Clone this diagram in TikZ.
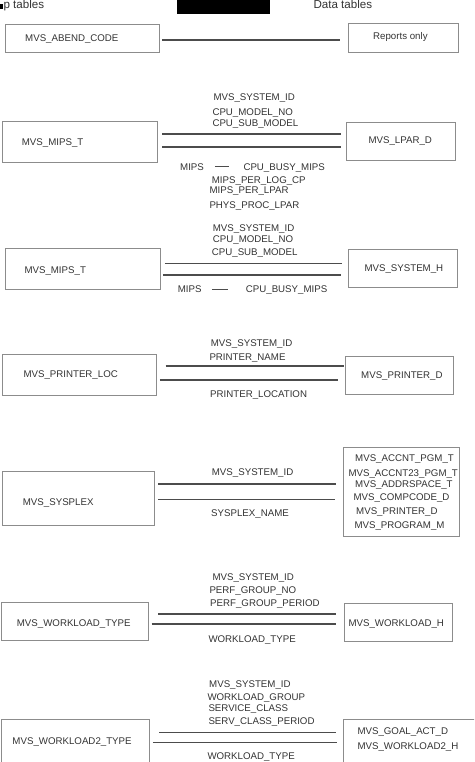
\documentclass[tikz,border=0pt]{standalone}
\usepackage{fontspec}
\setmainfont{Liberation Sans}
\usetikzlibrary{positioning}

\begin{document}
\begin{tikzpicture}[x=1pt,y=-1pt,
		tbl/.style={rectangle,draw=black!45,line width=0.9pt,inner sep=0pt},
		lbl/.style={anchor=west,inner sep=0pt,text height=6.9pt,text depth=0pt,text=black!80,font=\fontsize{9.7}{11}\selectfont},
		head/.style={anchor=base west,inner sep=0pt,text=black!80,font=\fontsize{11.6}{13}\selectfont},
		link/.style={draw=black!70,line width=1.1pt},
		shortlink/.style={draw=black!70,line width=0.8pt}]
		\useasboundingbox (0,0) rectangle (474,762);
		\clip (0,0) rectangle (474,762);

		% headings
		\node[head] (lookup) at (3.3,9) {p tables};
		\node[head] (data) at (313.3,9) {Data tables};
		\fill[black] (0,4) rectangle (2.7,9.5);
		\fill[black] (177,0) rectangle (270,14);

		% abend code
		\node[tbl,minimum width=154,minimum height=28] (abend) at (82,38) {};
		\node[lbl] (abendT) at (25,38) {MVS\_ABEND\_CODE};
		\node[tbl,minimum width=110,minimum height=29] (reports) at (403,37.5) {};
		\node[lbl] (reportsT) at (373,36) {Reports only};
		\draw[link] ([xshift=3]abend.east |- 0,40) -- ([xshift=-8]reports.west |- 0,40);

		% mips / lpar
		\node[tbl,minimum width=155,minimum height=40.3] (mipsA) at (79.5,141.9) {};
		\node[lbl] (mipsAT) at (21.7,142.3) {MVS\_MIPS\_T};
		\node[tbl,minimum width=108.6,minimum height=38.4] (lpar) at (401,141.5) {};
		\node[lbl] (lparT) at (368.3,140) {MVS\_LPAR\_D};
		\node[lbl] (sysA) at (213.3,97.3) {MVS\_SYSTEM\_ID};
		\node[lbl] (modelA) at (212.3,111.7) {CPU\_MODEL\_NO};
		\node[lbl] (subA) at (212.3,123.3) {CPU\_SUB\_MODEL};
		\node[lbl] (mipsKA) at (180,166.7) {MIPS};
		\node[lbl] (busyA) at (243.3,166.7) {CPU\_BUSY\_MIPS};
		\node[lbl] (logcp) at (211.7,180) {MIPS\_PER\_LOG\_CP};
		\node[lbl] (perlpar) at (209.3,190) {MIPS\_PER\_LPAR};
		\node[lbl] (phys) at (209.3,204.7) {PHYS\_PROC\_LPAR};
		\draw[link] ([xshift=5]mipsA.east |- 0,134) -- ([xshift=-5.7]lpar.west |- 0,134);
		\draw[link] ([xshift=5]mipsA.east |- 0,147) -- ([xshift=-5.7]lpar.west |- 0,147);
		\draw[shortlink] ([xshift=10.7]mipsKA.east) -- ([xshift=-14.6]busyA.west);

		% mips / system
		\node[tbl,minimum width=155,minimum height=40.7] (mipsB) at (82.5,268.7) {};
		\node[lbl] (mipsBT) at (24.3,270) {MVS\_MIPS\_T};
		\node[tbl,minimum width=109,minimum height=38.3] (sysH) at (402.8,268.2) {};
		\node[lbl] (sysHT) at (364.3,268.3) {MVS\_SYSTEM\_H};
		\node[lbl] (sysB) at (212.7,228.3) {MVS\_SYSTEM\_ID};
		\node[lbl] (modelB) at (212.7,239.3) {CPU\_MODEL\_NO};
		\node[lbl] (subB) at (211.7,252.3) {CPU\_SUB\_MODEL};
		\node[lbl] (mipsKB) at (177.7,289) {MIPS};
		\node[lbl] (busyB) at (245.7,289) {CPU\_BUSY\_MIPS};
		\draw[link] ([xshift=4.3]mipsB.east |- 0,263.7) -- ([xshift=-5.6]sysH.west |- 0,263.7);
		\draw[link] ([xshift=2.3]mipsB.east |- 0,275) -- ([xshift=-7]sysH.west |- 0,275);
		\draw[shortlink] ([xshift=10]mipsKB.east) -- ([xshift=-17.7]busyB.west);

		% printer
		\node[tbl,minimum width=153.7,minimum height=41] (prLoc) at (79.2,374.8) {};
		\node[lbl] (prLocT) at (23.3,374.3) {MVS\_PRINTER\_LOC};
		\node[tbl,minimum width=108.7,minimum height=38] (prD) at (399.3,375) {};
		\node[lbl] (prDT) at (361,375) {MVS\_PRINTER\_D};
		\node[lbl] (sysC) at (210.7,342.7) {MVS\_SYSTEM\_ID};
		\node[lbl] (prName) at (209.3,356.7) {PRINTER\_NAME};
		\node[lbl] (prLocation) at (210,394.3) {PRINTER\_LOCATION};
		\draw[link] ([xshift=9]prLoc.east |- 0,366) -- ([xshift=-1]prD.west |- 0,366);
		\draw[link] ([xshift=3.3]prLoc.east |- 0,380) -- ([xshift=-7]prD.west |- 0,380);

		% sysplex
		\node[tbl,minimum width=151.7,minimum height=54] (plex) at (78.2,498.7) {};
		\node[lbl] (plexT) at (22.7,502.3) {MVS\_SYSPLEX};
		\node[tbl,minimum width=115.7,minimum height=89.4] (plexList) at (401.2,492) {};
		\node[lbl] (accnt) at (355,458.3) {MVS\_ACCNT\_PGM\_T};
		\node[lbl] (accnt23) at (348.3,473.3) {MVS\_ACCNT23\_PGM\_T};
		\node[lbl] (addr) at (355,484.3) {MVS\_ADDRSPACE\_T};
		\node[lbl] (comp) at (353.3,497.3) {MVS\_COMPCODE\_D};
		\node[lbl] (prDB) at (356,511) {MVS\_PRINTER\_D};
		\node[lbl] (prog) at (354.3,525) {MVS\_PROGRAM\_M};
		\node[lbl] (sysD) at (211.7,472.3) {MVS\_SYSTEM\_ID};
		\node[lbl] (plexName) at (211,512.7) {SYSPLEX\_NAME};
		\draw[link] ([xshift=3.7]plex.east |- 0,484) -- ([xshift=-7.3]plexList.west |- 0,484);
		\draw[link] ([xshift=3.7]plex.east |- 0,499.3) -- ([xshift=-8.3]plexList.west |- 0,499.3);

		% workload
		\node[tbl,minimum width=147.3,minimum height=38.4] (wlType) at (74.7,621.5) {};
		\node[lbl] (wlTypeT) at (16.7,622.7) {MVS\_WORKLOAD\_TYPE};
		\node[tbl,minimum width=108.3,minimum height=38.4] (wlH) at (398.2,622.5) {};
		\node[lbl] (wlHT) at (348.3,622.7) {MVS\_WORKLOAD\_H};
		\node[lbl] (sysE) at (212.3,577.3) {MVS\_SYSTEM\_ID};
		\node[lbl] (pgNo) at (209.3,590) {PERF\_GROUP\_NO};
		\node[lbl] (pgPer) at (210,603.3) {PERF\_GROUP\_PERIOD};
		\node[lbl] (wlE) at (208.3,639) {WORKLOAD\_TYPE};
		\draw[link] ([xshift=9.4]wlType.east |- 0,614) -- ([xshift=-8]wlH.west |- 0,614);
		\draw[link] ([xshift=2.7]wlType.east |- 0,624) -- ([xshift=-8]wlH.west |- 0,624);

		% workload2
		\node[tbl,minimum width=148,minimum height=60.7] (wl2Type) at (75,749.7) {};
		\node[lbl] (wl2TypeT) at (12.3,741) {MVS\_WORKLOAD2\_TYPE};
		\node[tbl,minimum width=146.7,minimum height=60.7] (goal) at (416.7,749.7) {};
		\node[lbl] (goalT) at (357.3,731) {MVS\_GOAL\_ACT\_D};
		\node[lbl] (wl2H) at (357.3,746) {MVS\_WORKLOAD2\_H};
		\node[lbl] (sysF) at (209,684) {MVS\_SYSTEM\_ID};
		\node[lbl] (wlGroup) at (207.3,696.7) {WORKLOAD\_GROUP};
		\node[lbl] (svcClass) at (208.3,707.7) {SERVICE\_CLASS};
		\node[lbl] (svcPer) at (208.3,720.7) {SERV\_CLASS\_PERIOD};
		\node[lbl] (wlF) at (207.3,756) {WORKLOAD\_TYPE};
		\draw[link] ([xshift=10]wl2Type.east |- 0,732.3) -- ([xshift=-6.6]goal.west |- 0,732.3);
		\draw[link] ([xshift=3.3]wl2Type.east |- 0,742.7) -- ([xshift=-6]goal.west |- 0,742.7);

	\end{tikzpicture}
\end{document}
